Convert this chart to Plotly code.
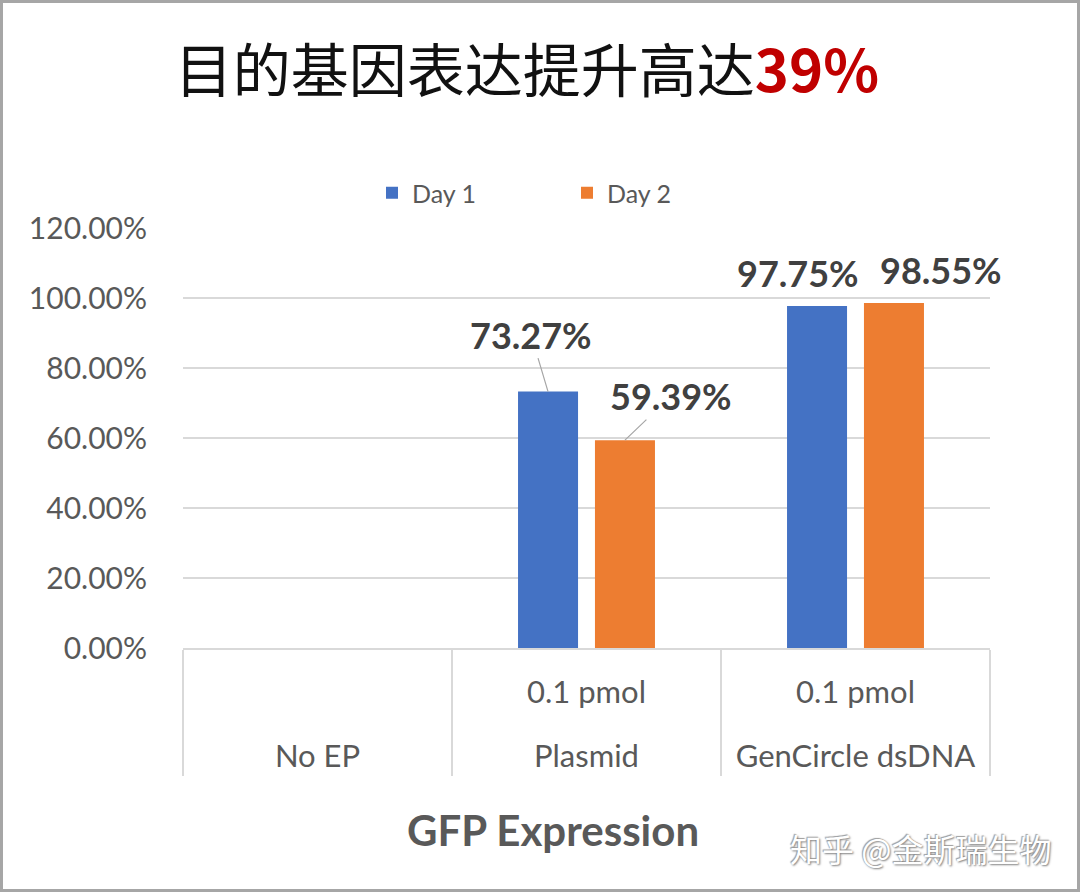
import plotly.graph_objects as go

# ---- data ----
groups = ["No EP", "Plasmid", "GenCircle dsDNA"]
doses = [" ", "0.1 pmol", "0.1 pmol"]
day1 = [None, 0.7327, 0.9775]
day2 = [None, 0.5939, 0.9855]
series_names = ["Day 1", "Day 2"]
y_ticks = [0, 0.2, 0.4, 0.6, 0.8, 1.0, 1.2]
x_title = "GFP Expression"

BLUE = "#4472C4"
ORANGE = "#ED7D31"
GRAY_TXT = "#595959"
LABEL_TXT = "#404040"
GRID = "#D9D9D9"
FONT = "Lato, 'Noto Sans', sans-serif"

W, H = 1080, 892
ML, MR, MT, MB = 183, 90, 228, 244
PW, PH = W - ML - MR, H - MT - MB

BARGAP = 0.428
GROUPGAP = 0.22

# inner labels get an extra (blank) line so the outer level sits lower
inner_labels = [d + "<br> " for d in doses]

fig = go.Figure()
for name, vals, col in [(series_names[0], day1, BLUE), (series_names[1], day2, ORANGE)]:
    fig.add_trace(go.Bar(
        x=[groups, inner_labels], y=vals, name=name,
        marker=dict(color=col, line=dict(width=0)),
    ))

# data labels (annotations anchored to bar tops)
slot = (1 - BARGAP) / 2
def bar_center(idx, series):
    return idx - slot / 2 + series * slot

label_cfg = {
    # (group idx, series): (dx, dy, leader line)
    (1, 0): (-17, -57, True),
    (1, 1): (46, -44, True),
    (2, 0): (-19, -33, False),
    (2, 1): (47, -33, False),
}
for s, vals in enumerate([day1, day2]):
    for i, v in enumerate(vals):
        if v is None:
            continue
        dx, dy, arrow = label_cfg[(i, s)]
        txt = f"{v*100:.2f}%"
        common = dict(
            xref="x", yref="y", x=bar_center(i, s), y=v, text=f"<b>{txt}</b>",
            font=dict(family=FONT, size=36, color=LABEL_TXT),
        )
        if arrow:
            fig.add_annotation(**common, showarrow=True, ax=dx, ay=dy,
                               arrowhead=0, arrowwidth=1.2, arrowcolor="#A6A6A6",
                               standoff=0, startstandoff=0)
        else:
            fig.add_annotation(**common, showarrow=False, xshift=dx, yshift=-dy,
                               xanchor="center", yanchor="middle")

# x axis title (placed as in the reference, left of the plot centre)
fig.add_annotation(
    xref="paper", yref="paper",
    x=(553 - ML) / PW, y=(MT + PH - 830) / PH,
    xanchor="center", yanchor="middle", showarrow=False,
    text=f"<b>{x_title}</b>",
    font=dict(family=FONT, size=42, color=GRAY_TXT),
)

# watermark
fig.add_annotation(
    xref="paper", yref="paper",
    x=(920 - ML) / PW, y=(MT + PH - 848) / PH,
    xanchor="center", yanchor="middle",
    text="知乎 @金斯瑞生物", showarrow=False,
    font=dict(family="Noto Sans CJK SC", size=32, color="#FFFFFF",
              shadow="1px 1px 2px #7f7f7f, -1px -1px 1px #9f9f9f"),
)

# outer border of the image
fig.add_shape(type="rect", xref="paper", yref="paper",
              x0=-(ML - 1.5) / PW, x1=(PW + MR - 1.5) / PW,
              y0=-(MB - 1.5) / PH, y1=1 + (MT - 1.5) / PH,
              line=dict(color="#A6A6A6", width=3), layer="above")

fig.update_layout(
    width=W, height=H,
    margin=dict(l=ML, r=MR, t=MT, b=MB, autoexpand=False),
    paper_bgcolor="white", plot_bgcolor="white",
    barmode="group", bargap=BARGAP, bargroupgap=GROUPGAP,
    title=dict(
        text="目的基因表达提升高达<span style='color:#C00000'><b>39%</b></span>",
        x=527 / W, y=1 - 72 / H, xref="container", yref="container",
        xanchor="center", yanchor="middle",
        font=dict(family="Noto Sans CJK SC", size=58, color="#111111"),
    ),
    legend=dict(
        orientation="h", x=(372 - ML) / PW, y=(MT + PH - 193) / PH,
        xanchor="left", yanchor="middle",
        font=dict(family=FONT, size=25, color=GRAY_TXT),
        itemwidth=30, entrywidthmode="pixels", entrywidth=150,
        bgcolor="rgba(0,0,0,0)",
    ),
    font=dict(family=FONT, color=GRAY_TXT),
    showlegend=True,
)

fig.update_yaxes(
    range=[0, 1.2], tickvals=y_ticks, tickformat=".2%",
    showgrid=True, gridcolor=GRID, gridwidth=2,
    zeroline=False, showline=False,
    tickfont=dict(family=FONT, size=30, color=GRAY_TXT),
    ticks="", ticklabelstandoff=35,
)
fig.update_xaxes(
    type="multicategory", range=[-0.5, 2.5],
    showline=True, linecolor=GRID, linewidth=2,
    showdividers=True, dividercolor=GRID, dividerwidth=2,
    tickfont=dict(family=FONT, size=31, color=GRAY_TXT),
    ticklabelstandoff=16,
    ticks="", showgrid=False,
)

fig.write_html(
    "out.html",
    config={"displayModeBar": False},
    post_script="document.body.style.margin='0';document.body.style.padding='0';",
)
